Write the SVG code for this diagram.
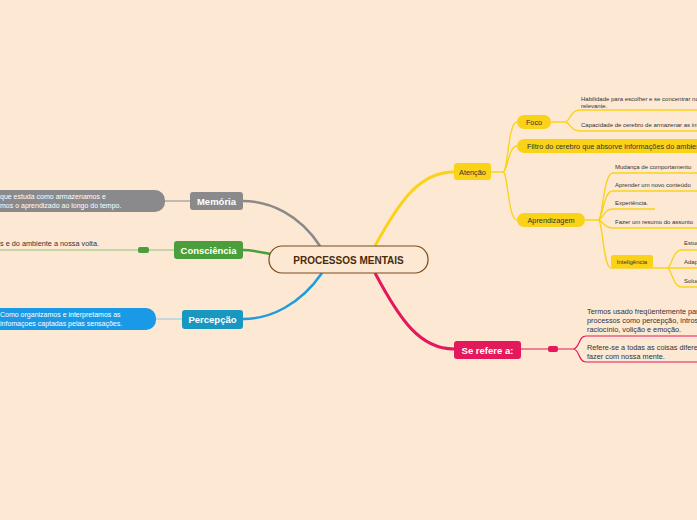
<svg xmlns="http://www.w3.org/2000/svg" width="697" height="520" viewBox="0 0 697 520">
<style>
text{font-family:"Liberation Sans",Arial,sans-serif}
.s{font-size:6px;fill:#333}
.m{font-size:7.3px;fill:#333}
.y{fill:#fad218}
.yl{stroke:#fad218;fill:none;stroke-width:1.3}
.w{font-size:9.5px;font-weight:bold;fill:#fff}
.wt{font-size:7px;fill:#fff}
</style>
<rect width="697" height="520" fill="#fde8d3"/>
<g id="connectors" fill="none">
<path d="M375,246 C400,200 420,172 454,172" stroke="#fad218" stroke-width="3"/>
<path d="M375,273 C400,320 420,349 454,349" stroke="#e3195c" stroke-width="3"/>
<path d="M320,246 C300,215 270,201 243,201" stroke="#8a8a8a" stroke-width="2.5"/>
<path d="M270,254 C260,252 252,250 243,250" stroke="#4a9e3c" stroke-width="2.5"/>
<path d="M322,273 C300,305 270,319 243,319" stroke="#1a9ee0" stroke-width="2.5"/>
<path d="M190,201 H165" stroke="#8a8a8a" stroke-width="1"/>
<path d="M174,250 H0" stroke="#8fc07a" stroke-width="1"/>
<path d="M182,319 H155" stroke="#8ac8e8" stroke-width="1"/>
<path class="yl" d="M491,172 H503 C508,172 508,122 517,122 M503,172 C508,172 508,146 517,146 M503,172 C508,172 508,220 517,220"/>
<path class="yl" d="M551,122 H565 C570,122 570,110 580,110 H697 M565,122 C570,122 570,131 580,131 H697"/>
<path class="yl" d="M585,220 H598 C603,220 603,173 613,173 H697 M598,220 C603,220 603,191 613,191 H697 M598,220 C603,220 603,209 613,209 H655 M598,220 C603,220 603,228 613,228 H697 M598,220 C603,220 603,268 611,268 H653 M653,268 H667 C672,268 672,250 682,250 H697 M667,268 C672,268 672,268 682,268 H697 M667,268 C672,268 672,287 682,287 H697"/>
<path d="M521,349 H573 C580,349 578,336 586,336 H697 M573,349 C580,349 578,362 586,362 H697" stroke="#e3195c" stroke-width="1.2"/>
<rect x="548" y="346" width="10" height="6" rx="2" fill="#e3195c"/>
<rect x="138" y="247" width="11" height="6" rx="2" fill="#4a9e3c"/>
</g>
<g id="center"><rect x="269" y="246" width="159" height="27" rx="13" fill="#fde8d3" stroke="#7a4a1a" stroke-width="1.2"/><text x="348.5" y="264" text-anchor="middle" font-size="10" font-weight="bold" fill="#4a2a0a">PROCESSOS MENTAIS</text></g>
<g id="atencao"><rect x="454" y="163" width="37" height="17" rx="3" class="y"/><text x="472.5" y="174.5" text-anchor="middle" class="m">Atenção</text></g>
<g id="foco"><rect x="517" y="115" width="34" height="14" rx="7" class="y"/><text x="534" y="124.5" text-anchor="middle" class="m">Foco</text></g>
<g id="filtro"><rect x="517" y="139" width="190" height="14" rx="7" class="y"/><text x="527" y="148.5" class="m">Filtro do cerebro que absorve informações do ambiente</text></g>
<g id="aprendizagem"><rect x="517" y="213" width="68" height="14" rx="7" class="y"/><text x="551" y="222.5" text-anchor="middle" class="m">Aprendizagem</text></g>
<g id="inteligencia"><rect x="611" y="255" width="42" height="13" rx="2" class="y"/><text x="632" y="264" text-anchor="middle" class="s">Inteligência</text></g>
<g id="foco-t"><text x="581" y="101" class="s">Habilidade para escolher e se concentrar no que é</text><text x="581" y="107.5" class="s">relevante.</text><text x="581" y="127" class="s">Capacidade de cerebro de armazenar as informações</text></g>
<g id="apr-t"><text x="615" y="169" class="s">Mudança de comportamento</text><text x="615" y="187" class="s">Aprender um novo conteúdo</text><text x="615" y="205" class="s">Experiência.</text><text x="615" y="224" class="s">Fazer um resumo do assunto</text><text x="684" y="245" class="s">Estudar</text><text x="684" y="264" class="s">Adaptar</text><text x="684" y="283" class="s">Solucionar</text></g>
<g id="serefere"><rect x="454" y="341" width="67" height="18" rx="3" fill="#e3195c"/><text x="487.5" y="353.5" text-anchor="middle" class="w">Se refere a:</text></g>
<g id="sr-t"><text x="587" y="314" class="m">Termos usado freqüentemente para descrever</text><text x="587" y="323" class="m">processos como percepção, introspecção, memória,</text><text x="587" y="332" class="m">raciocínio, volição e emoção.</text><text x="587" y="350" class="m">Refere-se a todas as coisas diferentes que podemos</text><text x="587" y="359" class="m">fazer com nossa mente.</text></g>
<g id="memoria"><rect x="190" y="192" width="53" height="18" rx="3" fill="#8a8a8c"/><text x="216.5" y="204.5" text-anchor="middle" class="w">Memória</text></g>
<g id="memoria-t"><rect x="-20" y="190" width="185" height="22" rx="10" fill="#8a8a8c"/><text x="0" y="199" class="wt">que estuda como armazenamos e</text><text x="0" y="208" class="wt">mos o aprendizado ao longo do tempo.</text></g>
<g id="consciencia"><rect x="174" y="241" width="69" height="18" rx="3" fill="#4a9e3c"/><text x="208.5" y="253.5" text-anchor="middle" class="w">Consciência</text></g>
<text x="0" y="245.5" class="m">s e do ambiente a nossa volta.</text>
<g id="percepcao"><rect x="182" y="310" width="61" height="19" rx="3" fill="#1898c0"/><text x="212.5" y="323" text-anchor="middle" class="w">Percepção</text></g>
<g id="percepcao-t"><rect x="-20" y="308" width="176" height="22" rx="10" fill="#1a9ae6"/><text x="0" y="317" class="wt">Como organizamos e interpretamos as</text><text x="0" y="326" class="wt">infomaçoes captadas pelas sensações.</text></g>
</svg>
